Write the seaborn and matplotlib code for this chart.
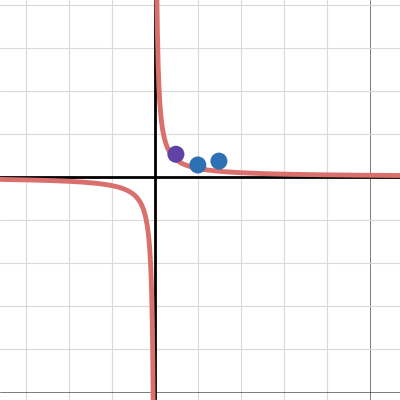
import matplotlib
matplotlib.use("Agg")
import matplotlib.pyplot as plt
import numpy as np
import seaborn as sns

# curve y = k / x
k = 0.2
point_x = [0.49, 1.0, 1.49]
point_y = [0.53, 0.28, 0.37]
point_colors = ["#6042a6", "#2d70b3", "#2d70b3"]

sns.set_style("white")
fig = plt.figure(figsize=(4, 4), dpi=100)
ax = fig.add_axes([0, 0, 1, 1])
xmin, xmax = -3.6, 5.7
ymin, ymax = -5.19, 4.12
ax.set_xlim(xmin, xmax)
ax.set_ylim(ymin, ymax)

for v in range(-3, 6):
    ax.axvline(v, color="#000000" if v % 5 == 0 and v else "#d9d9d9",
               lw=0.8 if v % 5 else 0.6, alpha=1 if v % 5 else 0.6, zorder=0)
for v in range(-5, 5):
    ax.axhline(v, color="#000000" if v % 5 == 0 and v else "#d9d9d9",
               lw=0.8 if v % 5 else 0.6, alpha=1 if v % 5 else 0.6, zorder=0)
ax.axhline(0, color="black", lw=2, zorder=1)
ax.axvline(0, color="black", lw=2, zorder=1)

xl = np.linspace(xmin, -0.035, 600)
xr = np.linspace(0.04, xmax, 600)
sns.lineplot(x=xl, y=k / xl, ax=ax, color="#d9706c", lw=3.5, sort=False, zorder=2)
sns.lineplot(x=xr, y=k / xr, ax=ax, color="#d9706c", lw=3.5, sort=False, zorder=2)
ax.scatter(point_x, point_y, c=point_colors, s=150, zorder=3, edgecolors="none")

ax.set_xticks([])
ax.set_yticks([])
for s in ax.spines.values():
    s.set_visible(False)
fig.savefig("out.png", dpi=100)
